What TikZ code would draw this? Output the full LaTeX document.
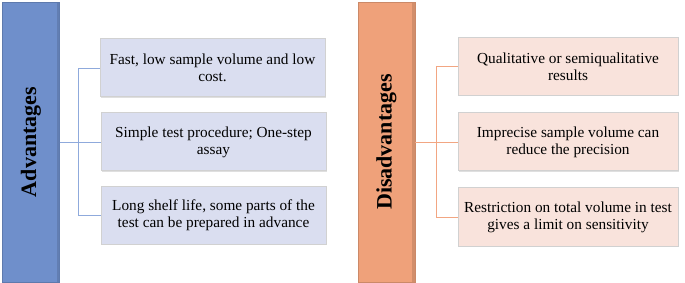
\documentclass[tikz,border=0pt]{standalone}
\usepackage{fontspec}
\setmainfont{Liberation Serif}
\usetikzlibrary{shadows}

\definecolor{advbar}{RGB}{111,143,203}
\definecolor{advbox}{RGB}{218,222,240}
\definecolor{advline}{RGB}{143,170,220}
\definecolor{disbar}{RGB}{239,161,122}
\definecolor{disbox}{RGB}{249,227,220}
\definecolor{disline}{RGB}{242,166,130}

\begin{document}
\begin{tikzpicture}[
    x=1pt, y=-1pt,
    bar/.style={rectangle, minimum width=57pt, minimum height=280pt, inner sep=0pt},
    advhead/.style={bar, fill=advbar, draw=advbar!85!black,
        path picture={\fill[advbar!88!black] ([xshift=-3pt]path picture bounding box.north east) rectangle (path picture bounding box.south east);}},
    dishead/.style={bar, fill=disbar, draw=disbar!85!black,
        path picture={\fill[disbar!88!black] ([xshift=-3pt]path picture bounding box.north east) rectangle (path picture bounding box.south east);}},
    headtext/.style={rotate=90, font=\fontsize{22}{24}\selectfont\bfseries},
    item/.style={rectangle, minimum height=58pt, inner sep=2pt, align=center,
        draw=black!18, line width=1pt, drop shadow={shadow xshift=0.8pt, shadow yshift=-0.8pt, opacity=0.25},
        font=\fontsize{15.3}{17}\selectfont},
    advitem/.style={item, fill=advbox, minimum width=225pt},
    disitem/.style={item, fill=disbox, minimum width=220pt},
    advlink/.style={advline, line width=0.8pt},
    dislink/.style={disline, line width=0.8pt}
]
    \useasboundingbox (0,0) rectangle (685,283);

    % --- Advantages (left)
    \node[advhead] (adv) at (31,142) {};
    \node[headtext] (advtxt) at (adv.center) {Advantages};
    \node[advitem] (adv1) at (212.5,68)  {Fast, low sample volume and low\\cost.};
    \node[advitem] (adv2) at (213.5,142) {Simple test procedure; One-step\\assay};
    \node[advitem] (adv3) at (213.5,215.5) {Long shelf life, some parts of the\\test can be prepared in advance};

    \draw[advlink] (adv.east) -- (adv2.west);
    \draw[advlink] (adv1.west) -- ++(-21,0) |- (adv3.west);

    % --- Disadvantages (right)
    \node[dishead] (dis) at (386.5,142) {};
    \node[headtext] (distxt) at (dis.center) {Disadvantages};
    \node[disitem] (dis1) at (568,66.5) {Qualitative or semiqualitative\\results};
    \node[disitem] (dis2) at (568,142)  {Imprecise sample volume can\\reduce the precision};
    \node[disitem] (dis3) at (568,217)  {Restriction on total volume in test\\gives a limit on sensitivity};

    \draw[dislink] (dis.east) -- (dis2.west);
    \draw[dislink] (dis1.west) -- ++(-21,0) |- (dis3.west);

\end{tikzpicture}
\end{document}
